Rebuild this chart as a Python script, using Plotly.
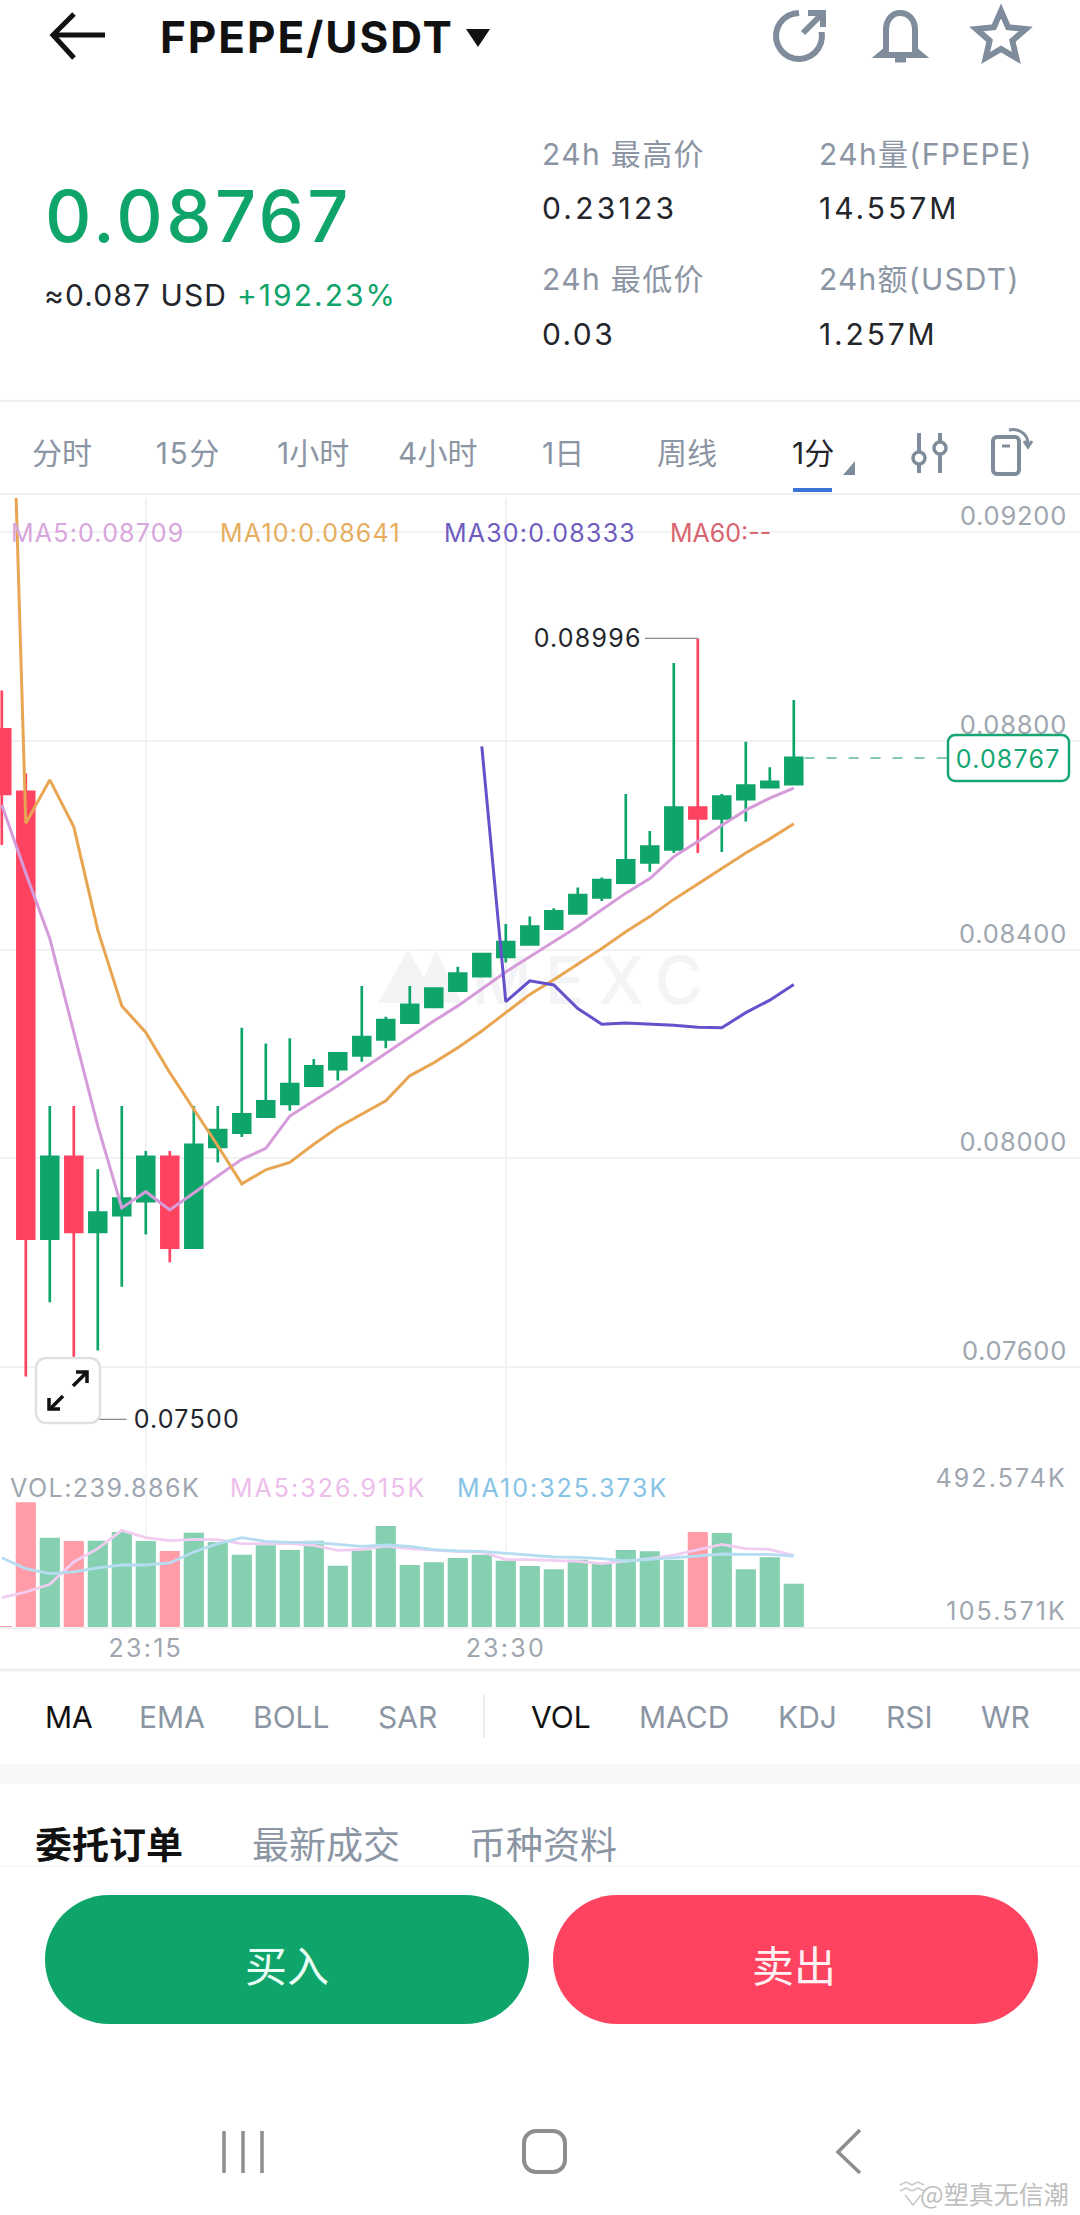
import json
import re
import math
import plotly.graph_objects as go

W, H = 1080, 2215

# ---------- data ----------
times = [f"23:{m:02d}" for m in range(9, 43)]
opens = [0.08822, 0.08702, 0.07846, 0.08003, 0.07859, 0.07891, 0.07918, 0.08003, 0.07829, 0.08022,
         0.08049, 0.08080, 0.08104, 0.08139, 0.08171, 0.08197, 0.08228, 0.08260, 0.08290, 0.08321,
         0.08349, 0.08386, 0.08410, 0.08440, 0.08469, 0.08500, 0.08528, 0.08567, 0.08592, 0.08672,
         0.08651, 0.08688, 0.08711, 0.08717]
highs = [0.08896, 0.08737, 0.08100, 0.08100, 0.07979, 0.08100, 0.08014, 0.08014, 0.08100, 0.08100,
         0.08250, 0.08220, 0.08230, 0.08190, 0.08201, 0.08330, 0.08271, 0.08330, 0.08325, 0.08367,
         0.08391, 0.08449, 0.08463, 0.08479, 0.08519, 0.08538, 0.08698, 0.08627, 0.08949, 0.08996,
         0.08698, 0.08798, 0.08749, 0.08878]
lows = [0.08600, 0.07582, 0.07724, 0.07500, 0.07632, 0.07754, 0.07854, 0.07801, 0.07829, 0.07992,
        0.08041, 0.08080, 0.08091, 0.08139, 0.08149, 0.08185, 0.08211, 0.08260, 0.08290, 0.08321,
        0.08349, 0.08375, 0.08410, 0.08440, 0.08469, 0.08493, 0.08528, 0.08549, 0.08585, 0.08585,
        0.08587, 0.08645, 0.08711, 0.08717]
closes = [0.08698, 0.07846, 0.08003, 0.07859, 0.07896, 0.07923, 0.08003, 0.07829, 0.08026, 0.08054,
          0.08084, 0.08109, 0.08142, 0.08176, 0.08201, 0.08232, 0.08265, 0.08294, 0.08325, 0.08354,
          0.08391, 0.08414, 0.08444, 0.08473, 0.08504, 0.08533, 0.08571, 0.08597, 0.08672, 0.08651,
          0.08693, 0.08714, 0.08721, 0.08767]
ma5 = [0.08677, 0.08546, 0.08421, 0.08241, 0.08062, 0.07905, 0.07936, 0.07901, 0.07934, 0.07966,
       0.07998, 0.08019, 0.08081, 0.08110, 0.08139, 0.08170, 0.08201, 0.08231, 0.08263, 0.08292,
       0.08324, 0.08357, 0.08386, 0.08415, 0.08444, 0.08476, 0.08508, 0.08536, 0.08578, 0.08607,
       0.08638, 0.08667, 0.08690, 0.08709]
ma10 = [0.10190, 0.08642, 0.08725, 0.08635, 0.08437, 0.08292, 0.08241, 0.08164, 0.08094, 0.08024,
        0.07951, 0.07978, 0.07992, 0.08027, 0.08059, 0.08084, 0.08110, 0.08158, 0.08183, 0.08212,
        0.08244, 0.08279, 0.08314, 0.08342, 0.08372, 0.08402, 0.08434, 0.08463, 0.08496, 0.08525,
        0.08555, 0.08585, 0.08612, 0.08641]
ma30 = [None] * 20 + [0.08789, 0.08300, 0.08340, 0.08332, 0.08287, 0.08257, 0.08259, 0.08257,
                      0.08255, 0.08251, 0.08250, 0.08279, 0.08303, 0.08333]
vol = [108.7, 492.574, 382.5, 372.2, 373.2, 400.0, 372.2, 341.1, 398.0, 369.0, 329.8, 358.7, 344.2,
       373.2, 295.7, 343.2, 418.6, 297.7, 306.0, 319.4, 329.8, 311.2, 294.6, 284.3, 314.3, 301.9,
       344.2, 340.1, 314.3, 400.0, 396.9, 284.3, 321.5, 239.886]
vol_ma5 = [196.5, 214.1, 237.8, 307.0, 348.4, 405.2, 382.5, 373.2, 377.3, 376.3, 363.9, 363.9, 363.9,
           358.7, 343.2, 346.3, 356.6, 348.4, 343.2, 339.1, 338.0, 314.3, 314.3, 311.2, 309.1, 301.9,
           309.1, 317.4, 328.7, 345.3, 361.8, 348.4, 346.3, 326.915]
vol_ma10 = [320.5, 286.4, 270.9, 276.1, 288.5, 297.7, 297.7, 304.0, 338.0, 363.9, 382.5, 371.1, 368.0,
            368.0, 361.8, 355.6, 359.7, 355.6, 345.3, 341.1, 340.1, 333.9, 328.7, 322.6, 321.5, 317.4,
            310.2, 316.3, 320.5, 325.6, 331.8, 330.8, 330.8, 325.373]
price_ticks = [0.076, 0.080, 0.084, 0.088, 0.092]
price_tick_text = ["0.07600", "0.08000", "0.08400", "0.08800", "0.09200"]
time_ticks = ["23:15", "23:30"]
vol_ticks = [105.571, 518]
vol_tick_text = ["105.571K", "492.574K"]
last_price = 0.08767
high_mark = 0.08996
low_mark = 0.07500

# ---------- palette ----------
GREEN = "#0FA56A"
RED = "#FD4360"
GRAY = "#8B95A3"
AXIS = "#9EA6B0"
DARK = "#23262B"
GRID = "#F1F2F4"
ICON = "#7F8C9B"
FONT = "Inter, 'Noto Sans CJK SC', sans-serif"
CJK = "'Noto Sans CJK SC', Inter, sans-serif"


def px(x):
    return x / W


def py(y):
    return 1 - y / H


def path(d):
    """Turn an SVG path in page pixels into paper coordinates."""
    toks = re.findall(r"[A-Za-z]|-?\d+\.?\d*", d)
    out, is_x = [], True
    for t in toks:
        if t.isalpha():
            out.append(t)
            is_x = True
        else:
            out.append(f"{px(float(t)) if is_x else py(float(t)):.6f}")
            is_x = not is_x
    return " ".join(out)


def rrect(x0, y0, x1, y1, r):
    c = r * 0.45
    return (f"M{x0+r},{y0} L{x1-r},{y0} C{x1-c},{y0} {x1},{y0+c} {x1},{y0+r} "
            f"L{x1},{y1-r} C{x1},{y1-c} {x1-c},{y1} {x1-r},{y1} "
            f"L{x0+r},{y1} C{x0+c},{y1} {x0},{y1-c} {x0},{y1-r} "
            f"L{x0},{y0+r} C{x0},{y0+c} {x0+c},{y0} {x0+r},{y0} Z")


shapes, notes = [], []


def shp(d, fill=None, line=None, lw=0, layer="above"):
    shapes.append(dict(type="path", xref="paper", yref="paper", path=path(d), layer=layer,
                       fillcolor=fill or "rgba(0,0,0,0)",
                       line=dict(color=line or "rgba(0,0,0,0)", width=lw)))


def hline(y, color, lw, x0=0, x1=W):
    shp(f"M{x0},{y} L{x1},{y}", line=color, lw=lw)


def circ(cx, cy, r, line, lw, fill="white"):
    shapes.append(dict(type="circle", xref="paper", yref="paper", x0=px(cx - r), x1=px(cx + r),
                       y0=py(cy + r), y1=py(cy - r), fillcolor=fill,
                       line=dict(color=line, width=lw), layer="above"))


def text(x, y, s, size, color, anchor="left", family=FONT, weight=None):
    f = dict(family=family, size=size, color=color)
    if weight:
        f["weight"] = weight
    notes.append(dict(xref="paper", yref="paper", x=px(x), y=py(y), text=s, showarrow=False,
                      xanchor=anchor, yanchor="middle", font=f, align=anchor))


# ---------- header ----------
shp("M105,35 L54,35", line="#111111", lw=5)
shp("M74,14 L53,35 L74,58", line="#111111", lw=5)
text(158, 37, "FPEPE/USDT", 44, "#111111", weight=700)
shp("M466,29 L490,29 L478,47 Z", fill="#111111")
arc = " ".join(("M" if i == 0 else "L") + f"{799+23*math.cos(math.radians(a)):.1f},{36+23*math.sin(math.radians(a)):.1f}"
               for i, a in enumerate(range(-10, 271, 14)))
shp(arc, line=ICON, lw=6)
shp("M803,33 L822,14", line=ICON, lw=6)
shp("M808,13 L823,13 L823,27", line=ICON, lw=6)
shp("M886,50 L886,30 C886,19 893,13 900,13 C908,13 915,19 915,30 L915,50 L921,55 L880,55 Z", line=ICON, lw=6)
shp("M895,60 L906,60", line=ICON, lw=5)
star = " ".join(("M" if i == 0 else "L") +
                f"{1001+(26 if i%2==0 else 12)*math.sin(math.radians(36*i)):.1f},{37-(26 if i%2==0 else 12)*math.cos(math.radians(36*i)):.1f}"
                for i in range(10)) + " Z"
shp(star, line=ICON, lw=6)

text(43, 215, "0.08767", 72, GREEN, weight=500)
text(42, 295, "≈0.087 USD", 30, DARK)
text(235, 295, "+192.23%", 30, GREEN)
text(540, 154, "24h 最高价", 30, GRAY)
text(540, 208, "0.23123", 30, DARK)
text(540, 279, "24h 最低价", 30, GRAY)
text(540, 334, "0.03", 30, DARK)
text(817, 154, "24h量(FPEPE)", 30, GRAY)
text(817, 208, "14.557M", 30, DARK)
text(817, 279, "24h额(USDT)", 30, GRAY)
text(817, 334, "1.257M", 30, DARK)
hline(401, "#EEF0F3", 2.5)

# ---------- period tabs ----------
for cx, s in [(62, "分时"), (188, "15分"), (313, "1小时"), (437, "4小时"), (563, "1日"), (687, "周线")]:
    text(cx, 453, s, 30, GRAY, "center")
text(813, 453, "1分", 30, DARK, "center")
shp("M843,475 L855,475 L855,461 Z", fill=ICON)
shp("M793,490 L832,490", line="#3B74D8", lw=4)
hline(494, "#EEF0F3", 2)
for lx, cy in [(919, 458), (940, 448)]:
    shp(f"M{lx},433 L{lx},473", line=ICON, lw=4)
    circ(lx, cy, 6, ICON, 3.5)
shp(rrect(993, 437, 1019, 474, 4), line=ICON, lw=4)
shp("M1002,446 L1010,446", line=ICON, lw=3)
shp("M1009,430 C1016,428 1028,432 1028,444", line=ICON, lw=3)
shp("M1024,441 L1028,447 L1032,441", line=ICON, lw=3)

# ---------- chart legends ----------
text(9, 533, "MA5:0.08709", 25, "#D8A5DC")
text(218, 533, "MA10:0.08641", 25, "#E6AE5E")
text(442, 533, "MA30:0.08333", 25, "#6E5CC0")
text(668, 533, "MA60:--", 25, "#D9656F")
text(8, 1488, "VOL:239.886K", 25, AXIS)
text(228, 1488, "MA5:326.915K", 25, "#EDBDEB")
text(455, 1488, "MA10:325.373K", 25, "#86C3E6")

# ---------- watermark of the exchange (behind the candles) ----------
shp("M378,1003 L408,950 L424,978 L436,950 L462,1003 L438,1003 L430,990 L422,1003 Z", fill="#F3F4F6", layer="below")
shapes.append(dict(type="rect", xref="paper", yref="paper", x0=px(462), x1=px(726), y0=py(1005), y1=py(950),
                   layer="below", line=dict(width=0), fillcolor="rgba(0,0,0,0)",
                   label=dict(text="MEXC", font=dict(family=FONT, size=66, color="#F3F4F6", weight=500),
                              textposition="middle center")))


# ---------- marks tied to the price scale ----------
def xcat(t):
    return times.index(t)


shapes.append(dict(type="line", xref="x", yref="y", x0=xcat("23:38") - 2.2, x1=xcat("23:38"),
                   y0=high_mark, y1=high_mark, line=dict(color="#8A8A8A", width=1.2), layer="above"))
shapes.append(dict(type="line", xref="x", yref="y", x0=xcat("23:12"), x1=xcat("23:12") + 2.2,
                   y0=low_mark, y1=low_mark, line=dict(color="#8A8A8A", width=1.2), layer="above"))
shapes.append(dict(type="line", xref="x", yref="y", x0=xcat("23:42") + 0.45, x1=39.4,
                   y0=last_price, y1=last_price, line=dict(color="#5DB896", width=1.5, dash="10px,12px"), layer="above"))
notes.append(dict(xref="x", yref="y", x=xcat("23:38"), y=high_mark, text="0.08996", showarrow=False, xanchor="right",
                  yanchor="middle", xshift=-59, font=dict(family=FONT, size=25, color=DARK)))
notes.append(dict(xref="x", yref="y", x=xcat("23:12"), y=low_mark, text="0.07500", showarrow=False, xanchor="left",
                  yanchor="middle", xshift=62, font=dict(family=FONT, size=25, color=DARK)))

# expand button
shp(rrect(36, 1358, 100, 1423, 10), fill="white", line="#DDE0E4", lw=2.5)
shp("M73,1386 L86,1373", line="#111111", lw=3.5)
shp("M76,1372 L87,1372 L87,1383", line="#111111", lw=3.5)
shp("M63,1396 L50,1409", line="#111111", lw=3.5)
shp("M49,1398 L49,1409 L60,1409", line="#111111", lw=3.5)
# last price box
shp(rrect(948, 735, 1069, 781, 7), fill="white", line="#14A673", lw=2.5)
text(1008, 759, "0.08767", 25, "#14A673", "center")

# ---------- lower UI ----------
hline(1670, "#EEF0F3", 3)
for cx, s, c in [(69, "MA", "#111111"), (172, "EMA", GRAY), (291, "BOLL", GRAY), (407, "SAR", GRAY),
                 (561, "VOL", "#111111"), (684, "MACD", GRAY), (807, "KDJ", GRAY), (909, "RSI", GRAY), (1005, "WR", GRAY)]:
    text(cx, 1717, s, 30, c, "center")
shp("M484,1695 L484,1738", line="#E8EAED", lw=2)
shp("M0,1764 L1080,1764 L1080,1784 L0,1784 Z", fill="#F7F8FA")
text(33, 1843, "委托订单", 37, "#111111", family=CJK, weight=700)
text(250, 1843, "最新成交", 37, GRAY, family=CJK)
text(467, 1843, "币种资料", 37, GRAY, family=CJK)
hline(1866, "#F6F7F9", 2)
shp(rrect(45, 1895, 529, 2024, 64), fill=GREEN)
shp(rrect(553, 1895, 1038, 2024, 64), fill=RED)
text(287, 1963, "买入", 42, "#E8FFF5", "center", family=CJK)
text(794, 1963, "卖出", 42, "#FFF0F2", "center", family=CJK)
for lx in (224, 243, 262):
    shp(f"M{lx},2131 L{lx},2173", line="#8E8E8E", lw=3.5)
shp(rrect(524, 2131, 565, 2172, 12), line="#8E8E8E", lw=4)
shp("M860,2130 L838,2152 L860,2173", line="#8E8E8E", lw=3.5)
# repost mark
for yy in (2185, 2191):
    shp(f"M900,{yy} L906,{yy-3} L912,{yy} L918,{yy-3} L924,{yy}", line="#C9C9C9", lw=1.5)
shp("M905,2195 L913,2205 L921,2195", line="#C9C9C9", lw=1.5)
text(1071, 2193, "@塑真无信潮", 25, "#BEBEBE", "right", family=CJK)

# ---------- traces ----------
fig = go.Figure()
fig.add_trace(go.Candlestick(
    x=times, open=opens, high=highs, low=lows, close=closes, xaxis="x", yaxis="y", whiskerwidth=0,
    increasing=dict(line=dict(color=GREEN, width=2.7), fillcolor=GREEN),
    decreasing=dict(line=dict(color=RED, width=2.7), fillcolor=RED), showlegend=False))
for name, vals, col in [("MA5", ma5, "#D69BDA"), ("MA10", ma10, "#E8A552"), ("MA30", ma30, "#6650CC")]:
    fig.add_trace(go.Scatter(x=times, y=vals, mode="lines", name=name, xaxis="x", yaxis="y",
                             line=dict(color=col, width=3), showlegend=False, connectgaps=False))
vol_colors = ["#85D0B0" if c >= o else "#FF9CA8" for o, c in zip(opens, closes)]
fig.add_trace(go.Bar(x=times, y=vol, marker=dict(color=vol_colors, line_width=0), width=0.84,
                     xaxis="x2", yaxis="y2", showlegend=False))
for name, vals, col in [("VOL MA5", vol_ma5, "#F2CDF2"), ("VOL MA10", vol_ma10, "#B5DDF2")]:
    fig.add_trace(go.Scatter(x=times, y=vals, mode="lines", name=name, xaxis="x2", yaxis="y2",
                             line=dict(color=col, width=2.8), showlegend=False))

x_range = [-0.075, 44.925]
common_x = dict(type="category", categoryorder="array", categoryarray=times, range=x_range, tickmode="array",
                tickvals=time_ticks, ticktext=time_ticks, showgrid=True, gridwidth=2, ticks="",
                zeroline=False, fixedrange=True)
fig.update_layout(
    width=W, height=H, margin=dict(l=0, r=0, t=0, b=0), paper_bgcolor="white", plot_bgcolor="rgba(0,0,0,0)",
    showlegend=False, boxgap=0.3, boxgroupgap=0, bargap=0.16, shapes=shapes, annotations=notes,
    font=dict(family=FONT),
    xaxis=dict(domain=[0, 1], anchor="y", showticklabels=False, gridcolor=GRID,
               rangeslider=dict(visible=False), **common_x),
    xaxis2=dict(domain=[0, 1], anchor="y2", showticklabels=True, ticklabelstandoff=-2, gridcolor="#F7F7F8",
                tickfont=dict(family=FONT, size=25, color=AXIS), showline=True, linecolor="#F0F1F3", linewidth=2,
                rangeslider=dict(visible=False), **common_x),
    yaxis=dict(domain=[1 - 1460 / H, 1 - 498 / H], anchor="x", range=[0.07422, 0.09265], side="right",
               tickmode="array", tickvals=price_ticks, ticktext=price_tick_text, ticklabelposition="inside top",
               ticklabelstandoff=10, tickfont=dict(family=FONT, size=25.5, color=AXIS), showgrid=True,
               gridcolor=GRID, gridwidth=2, zeroline=False, ticks="", fixedrange=True),
    yaxis2=dict(domain=[1 - 1627 / H, 1 - 1460 / H], anchor="x2", range=[105.571, 623.2], side="right",
                tickmode="array", tickvals=vol_ticks, ticktext=vol_tick_text, ticklabelposition="inside top",
                ticklabelstandoff=10, tickfont=dict(family=FONT, size=25, color=AXIS), showgrid=False,
                zeroline=False, ticks="", fixedrange=True),
)

# the source UI sets its text with a wider tracking than the installed font
tracking = {"FPEPE/USDT": .045, "0.08767": .048, "≈0.087 USD": .037, "+192.23%": .067, "0.23123": .107,
            "14.557M": .10, "1.257M": .095, "0.03": .08, "24h 最高价": .045, "24h 最低价": .045,
            "24h量(FPEPE)": .045, "24h额(USDT)": .04, "MA5:0.08709": .048, "MA10:0.08641": .048,
            "MA30:0.08333": .048, "VOL:239.886K": .06, "MA5:326.915K": .08, "MA10:325.373K": .08,
            "0.09200": .03, "0.08800": .03, "0.08400": .03, "0.08000": .03, "0.07600": .03,
            "105.571K": .085, "492.574K": .085, "23:15": .09, "23:30": .09, "0.08996": .05, "0.07500": .05,
            "15分": .05, "MEXC": .2}
script = ("var T=" + json.dumps(tracking, ensure_ascii=False) + ";"
          "document.body.style.margin='0';document.body.style.overflow='hidden';"
          "function applyT(){document.querySelectorAll('svg text').forEach(function(t){"
          "var k=T[t.textContent];if(k){var f=parseFloat(getComputedStyle(t).fontSize);t.style.letterSpacing=(k*f)+'px';}});"
          "document.querySelectorAll('.ytick text,.y2tick text').forEach(function(t){t.setAttribute('dy','2');});}"
          "applyT();setTimeout(applyT,200);")
fig.write_html("out.html", config=dict(displayModeBar=False), post_script=script)
